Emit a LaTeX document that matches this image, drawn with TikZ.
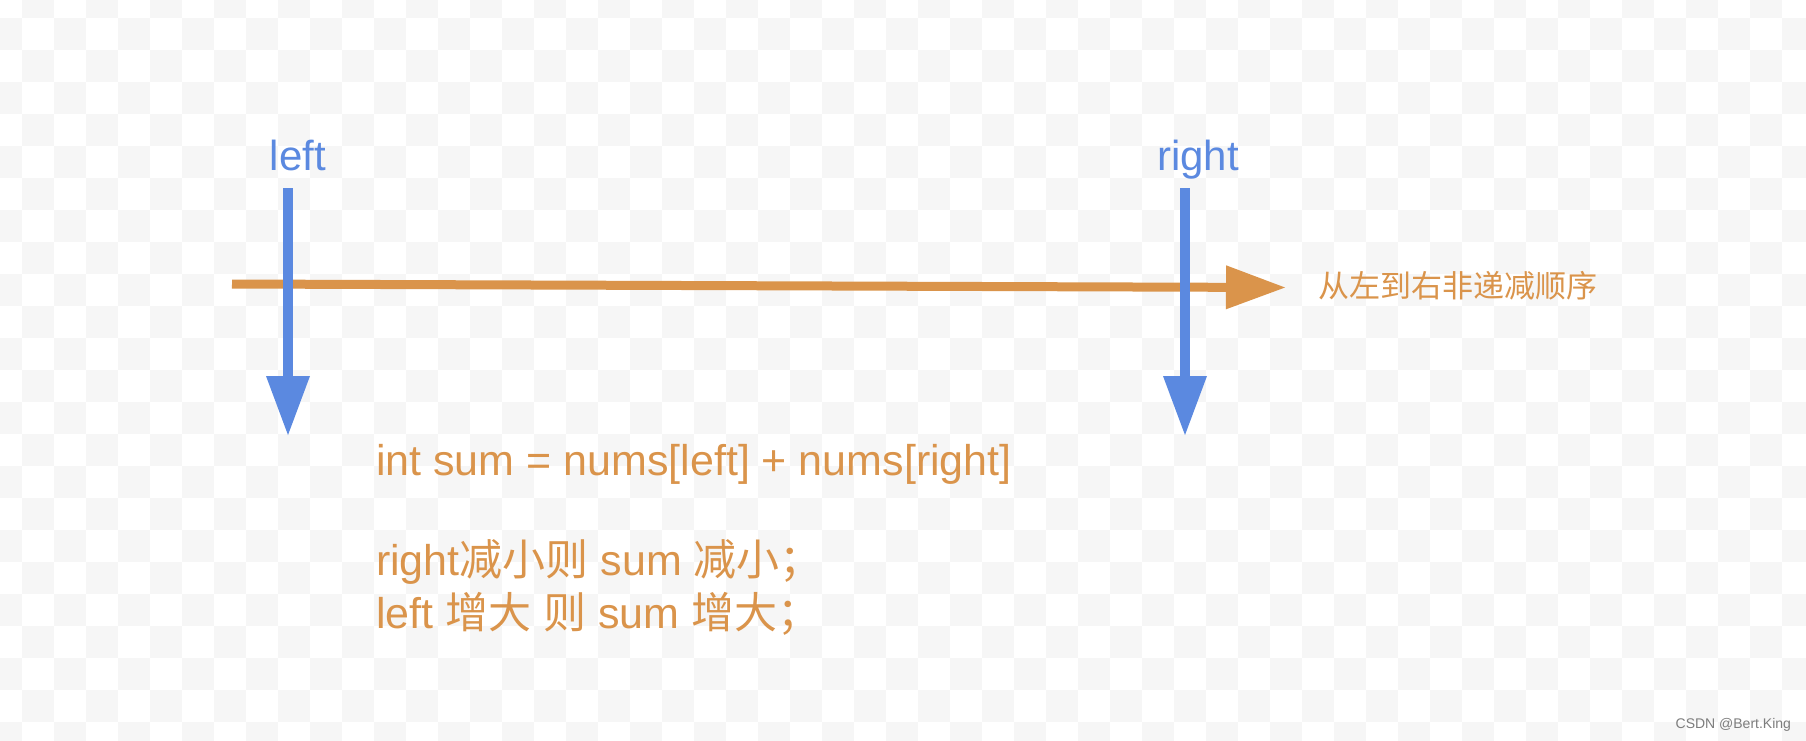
\documentclass[tikz,border=0pt]{standalone}
\usepackage{fontspec}
\setmainfont{Liberation Sans}
\newfontfamily\cjk{Noto Sans CJK SC}
\usepackage{xcolor}
\usetikzlibrary{arrows.meta,calc,positioning}
\definecolor{ptrblue}{RGB}{91,137,224}
\definecolor{ordorange}{RGB}{218,148,75}
\definecolor{checkgray}{RGB}{246,246,246}
\definecolor{markgray}{RGB}{125,125,125}

\begin{document}
\begin{tikzpicture}[
    x=0.5pt, y=-0.5pt,
    nosep/.style={inner sep=0, outer sep=0},
    ptrlabel/.style={nosep, anchor=base, text=ptrblue, font=\fontsize{21}{25}\selectfont},
    pointer/.style={draw=ptrblue, line width=4.75pt, -{Triangle[length=29.5pt, width=22pt, line width=0pt]}},
    order/.style={draw=ordorange, line width=4.5pt, -{Triangle[length=29.5pt, width=22pt, line width=0pt]}},
    codeline/.style={nosep, anchor=base west, text=ordorange, font=\fontsize{21.5}{26}\selectfont},
    ]
\useasboundingbox (0,0) rectangle (1806,740);

% transparent-canvas checker
\begin{scope}
\clip (0,0) rectangle (1806,740);
\fill[white] (0,0) rectangle (1806,740);
\foreach \r in {0,...,23}{
  \foreach \c in {0,...,57}{
    \pgfmathtruncatemacro{\ckodd}{mod(\r+\c,2)}
    \ifnum\ckodd=1
      \fill[checkgray] (-10+32*\c,-14+32*\r) rectangle ++(32,32);
    \fi
  }
}
\end{scope}

\coordinate (ORDstart) at (232,284);
\coordinate (ORDtip) at (1285,287.5);
\draw[order] (ORDstart) -- (ORDtip);
\node[nosep, anchor=base west, text=ordorange, font=\cjk\fontsize{15.5}{18}\selectfont] (ORDlabel) at (1318,297) {从左到右非递减顺序};

\node[ptrlabel] (LBLleft) at (298,170) {left};
\node[ptrlabel] (LBLright) at (1198,170) {right};
\coordinate (PTRleftTop) at (288,188);
\coordinate (PTRleftTip) at (288,435);
\coordinate (PTRrightTop) at (1185,188);
\coordinate (PTRrightTip) at (1185,435);
\draw[pointer] (PTRleftTop) -- (PTRleftTip);
\draw[pointer] (PTRrightTop) -- (PTRrightTip);

\node[codeline] (SUMdef) at (376,475) {int sum = nums[left] + nums[right]};
\node[codeline] (SUMdec) at (376,575) {right{\cjk 减小则} sum {\cjk 减小；}};
\node[codeline] (SUMinc) at (376,628.5) {left {\cjk 增大} {\cjk 则} sum {\cjk 增大；}};

\node[nosep, anchor=base east, text=markgray, font=\fontsize{7}{8}\selectfont] (CSDNmark) at (1791,728) {CSDN @Bert.King};
\end{tikzpicture}
\end{document}
